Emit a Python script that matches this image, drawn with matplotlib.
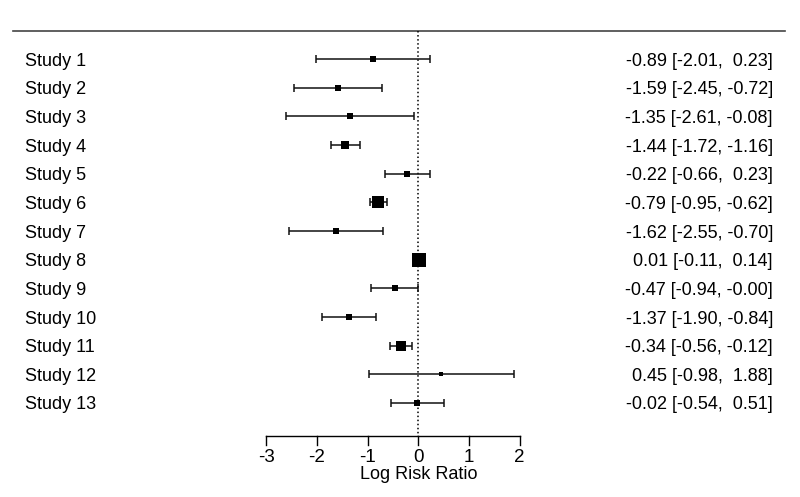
import matplotlib.pyplot as plt
import numpy as np

plt.rcParams['font.family'] = ['Liberation Sans', 'DejaVu Sans']

# data
studies = ['Study %d' % i for i in range(1, 14)]
est = [-0.89, -1.59, -1.35, -1.44, -0.22, -0.79, -1.62, 0.01, -0.47, -1.37, -0.34, 0.45, -0.02]
lower = [-2.01, -2.45, -2.61, -1.72, -0.66, -0.95, -2.55, -0.11, -0.94, -1.90, -0.56, -0.98, -0.54]
upper = [0.23, -0.72, -0.08, -1.16, 0.23, -0.62, -0.70, 0.14, -0.00, -0.84, -0.12, 1.88, 0.51]
xticks = [-3, -2, -1, 0, 1, 2]

est = np.array(est)
lower = np.array(lower)
upper = np.array(upper)
rows = np.arange(1, len(studies) + 1)

# square size like metafor: linear in 1/se, scaled 0.5 .. 1.5
wi = 1 / ((upper - lower) / 3.92)
psize = (wi - wi.min()) / (wi.max() - wi.min()) + 0.5
msize = (5 + (psize - 0.5) * 9) * 0.72  # pixels -> points

fig = plt.figure(figsize=(8, 4.97), dpi=100)
ax = fig.add_axes([0, 0, 1, 1])
ax.set_xlim(-8.256, 7.533)
ax.set_ylim(16.28, -1.06)
ax.axis('off')

fs = 13
top_row = 0.02
axis_row = 14.15

ax.plot([-8.0, 7.24], [top_row, top_row], color='#444444', lw=1.2)
ax.plot([0, 0], [top_row, axis_row], color='black', lw=1.1, ls=':')

for r, name, e, lo, hi, ms in zip(rows, studies, est, lower, upper, msize):
    ax.errorbar(e, r, xerr=[[e - lo], [hi - e]], fmt='none', ecolor='#111111',
                elinewidth=1.1, capsize=2.6, capthick=1.1)
    ax.plot(e, r, marker='s', color='black', markersize=ms, mew=0)
    ax.text(-7.76, r, name, ha='left', va='center_baseline', fontsize=fs)
    lab = '%5.2f [%5.2f, %5.2f]' % (e, lo, hi)
    ax.text(7.0, r, lab, ha='right', va='center_baseline', fontsize=fs)

# x axis
ax.plot([xticks[0], xticks[-1]], [axis_row, axis_row], color='black', lw=1.0)
for t in xticks:
    ax.plot([t, t], [axis_row, axis_row + 0.31], color='black', lw=1.0)
    ax.text(t, axis_row + 0.68, str(t), ha='center', va='center_baseline', fontsize=13.5)
ax.text(0, axis_row + 1.28, 'Log Risk Ratio', ha='center', va='center_baseline', fontsize=fs)

fig.savefig('out.png', dpi=100)
